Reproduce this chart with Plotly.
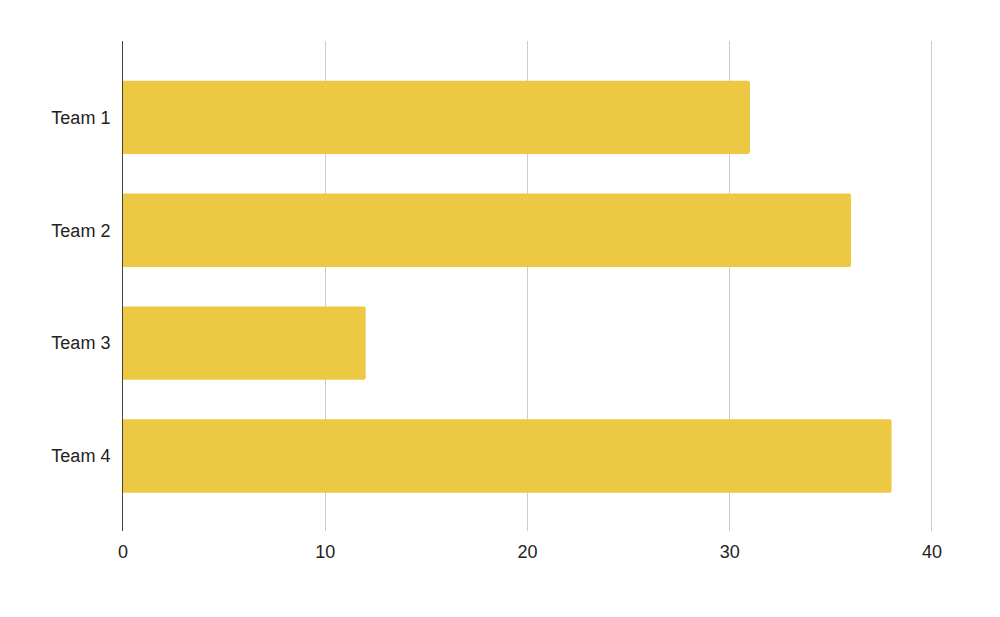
import plotly.graph_objects as go

teams = ["Team 1", "Team 2", "Team 3", "Team 4"]
values = [31, 36, 12, 38]
x_ticks = [0, 10, 20, 30, 40]

fig = go.Figure(
    go.Bar(
        x=values,
        y=teams,
        orientation="h",
        width=0.65,
        marker=dict(color="#ECC843", line=dict(width=0), cornerradius=2),
        hoverinfo="x+y",
    )
)

fig.update_layout(
    width=1000,
    height=617,
    margin=dict(l=115, r=74, t=33, b=94),
    paper_bgcolor="white",
    plot_bgcolor="white",
    showlegend=False,
    font=dict(family="Liberation Sans, Arial, sans-serif", size=18, color="#222222"),
    xaxis=dict(
        range=[0, 40.1],
        tickvals=x_ticks,
        showgrid=True,
        gridcolor="#CCCCCC",
        gridwidth=1,
        zeroline=False,
        showline=False,
        ticks="outside",
        ticklen=4,
        tickcolor="rgba(0,0,0,0)",
    ),
    yaxis=dict(
        type="category",
        categoryorder="array",
        categoryarray=teams,
        range=[3.664, -0.676],
        showgrid=False,
        zeroline=False,
        showline=True,
        linecolor="#444444",
        linewidth=1,
        ticks="outside",
        ticklen=8,
        tickcolor="rgba(0,0,0,0)",
    ),
)

fig.write_html("out.html")
